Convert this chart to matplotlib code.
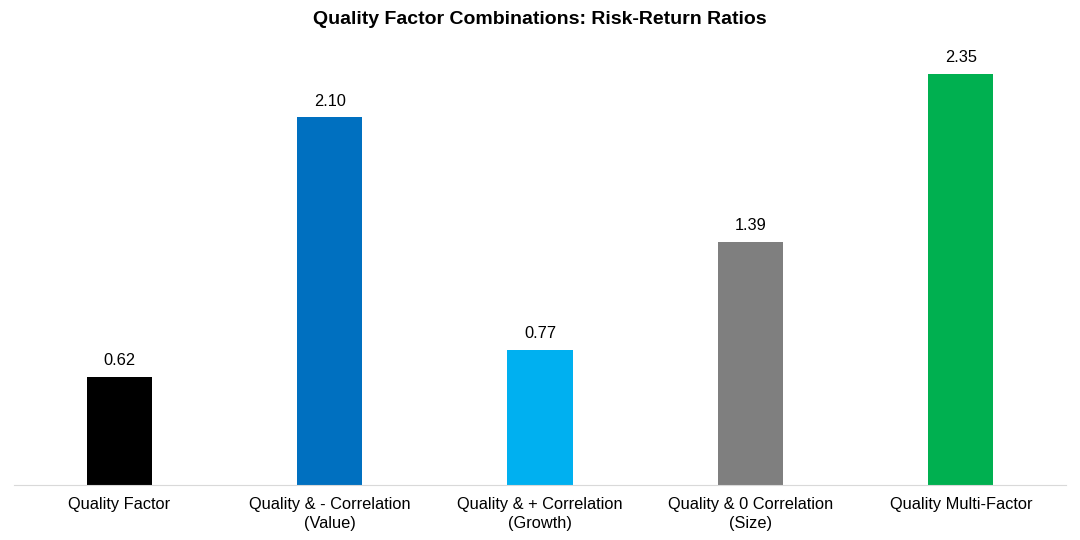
import matplotlib.pyplot as plt
import numpy as np

plt.rcParams['font.family'] = ['Liberation Sans', 'DejaVu Sans']

categories = ['Quality Factor', 'Quality & - Correlation\n(Value)', 'Quality & + Correlation\n(Growth)',
              'Quality & 0 Correlation\n(Size)', 'Quality Multi-Factor']
values = [0.62, 2.10, 0.77, 1.39, 2.35]
colors = ['#000000', '#0070C0', '#00B0F0', '#7F7F7F', '#00B050']

fig = plt.figure(figsize=(10.8, 5.4), dpi=100)
ax = fig.add_axes([14/1080, 1 - 485/540, 1052/1080, 440/540])

x = np.arange(len(categories))
ax.bar(x, values, width=0.31, color=colors)
for xi, v in zip(x, values):
    ax.text(xi, v + 0.05, f'{v:.2f}', ha='center', va='bottom', fontsize=11.8)

ax.set_xlim(-0.5, len(categories) - 0.5)
ax.set_ylim(0, 440/175)
ax.set_xticks(x)
ax.set_xticklabels(categories, fontsize=11.8, linespacing=1.3)
ax.tick_params(axis='x', length=0, pad=9)
ax.set_yticks([])
for s in ['top', 'right', 'left']:
    ax.spines[s].set_visible(False)
ax.spines['bottom'].set_color('#D9D9D9')

fig.suptitle('Quality Factor Combinations: Risk-Return Ratios', fontsize=14, fontweight='bold', y=1 - 20/540, va='center')

fig.savefig('out.png', dpi=100)
